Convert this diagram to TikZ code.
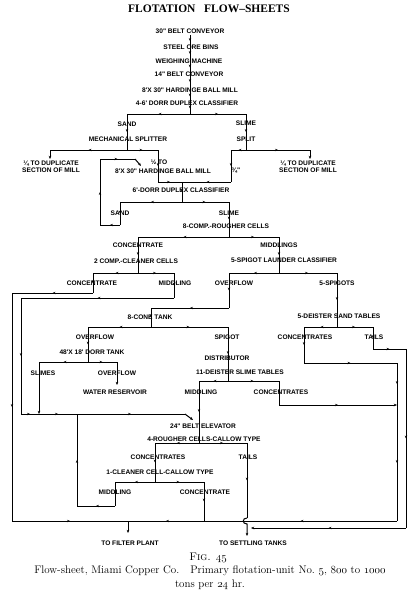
\documentclass[tikz,border=0pt]{standalone}
\usepackage{fontspec}
\usetikzlibrary{arrows.meta,decorations.markings}
\newfontfamily\lblfont{Liberation Sans}
\newfontfamily\headfont{Liberation Serif}
\newcommand\osn[1]{{\usefont{OML}{cmm}{m}{it}#1}}
\tikzset{
  lbl/.style={font=\lblfont\bfseries\fontsize{6.6}{7.4}\selectfont, inner sep=0.5pt, align=center},
  capt/.style={font=\fontsize{11}{13}\selectfont, inner sep=0pt},
  pipe/.style={line width=1pt},
  fl/.style={pipe, postaction={decorate},
    decoration={markings, mark=at position 0.5 with {\arrow{Stealth[length=3pt,width=2.4pt]}}}},
  endtip/.style={pipe, -{Stealth[length=3.2pt,width=2.6pt]}},
}

\begin{document}
\begin{tikzpicture}[x=1pt,y=-1pt]
  \fill[white] (0,0) rectangle (419,603);
  \useasboundingbox (0,0) rectangle (419,603);

  % title
  \node[font=\headfont\bfseries\fontsize{11.5}{13}\selectfont, inner sep=0pt] (title) at (209,9) {FLOTATION\hspace{0.5em} FLOW–SHEETS};

  % crushing and first mill
  \node[lbl] (conv30) at (190,31) {30" BELT CONVEYOR};
  \node[lbl] (bins) at (191,47) {STEEL ORE BINS};
  \node[lbl] (weigh) at (189,61) {WEIGHING MACHINE};
  \node[lbl] (conv14) at (189,74) {14" BELT CONVEYOR};
  \node[lbl] (mill1) at (190,90) {8'X 30" HARDINGE BALL MILL};
  \node[lbl] (dorr46) at (187,103) {4-6' DORR DUPLEX CLASSIFIER};
  \node[lbl] (sand1) at (127,124) {SAND};
  \node[lbl] (slime1) at (246,123) {SLIME};
  \node[lbl] (splitter) at (128,139) {MECHANICAL SPLITTER};
  \node[lbl] (split) at (246,139) {SPLIT};
  \node[lbl] (dupl) at (51,167) {¼ TO DUPLICATE\\SECTION OF MILL};
  \node[lbl] (halfto) at (159,162) {½ TO};
  \node[lbl] (mill2) at (163,171) {8'X 30" HARDINGE BALL MILL};
  \node[lbl] (threeq) at (236,170) {¾"};
  \node[lbl] (dupr) at (308,167) {¼ TO DUPLICATE\\SECTION OF MILL};
  \node[lbl] (dorr6) at (181,190) {6'-DORR DUPLEX CLASSIFIER};
  \node[lbl] (sand2) at (120,213) {SAND};
  \node[lbl] (slime2) at (229,213) {SLIME};

  % flotation
  \node[lbl] (rough8) at (226,226) {8-COMP.-ROUGHER CELLS};
  \node[lbl] (conc1) at (138,245) {CONCENTRATE};
  \node[lbl] (midd1) at (279,245) {MIDDLINGS};
  \node[lbl] (clean2) at (136,261) {2 COMP.-CLEANER CELLS};
  \node[lbl] (launder) at (284,260) {5-SPIGOT LAUNDER CLASSIFIER};
  \node[lbl] (conc2) at (92,283) {CONCENTRATE};
  \node[lbl] (midd2) at (175,283) {MIDDLING};
  \node[lbl] (over1) at (234,283) {OVERFLOW};
  \node[lbl] (spig5) at (337,283) {5-SPIGOTS};
  \node[lbl] (cone) at (150,317) {8-CONE TANK};
  \node[lbl] (sandtab) at (339,316) {5-DEISTER SAND TABLES};
  \node[lbl] (over2) at (95,337) {OVERFLOW};
  \node[lbl] (spig) at (227,337) {SPIGOT};
  \node[lbl] (conc3) at (305,337) {CONCENTRATES};
  \node[lbl] (tails1) at (374,337) {TAILS};
  \node[lbl] (dorrtank) at (92,352) {48'X 18' DORR TANK};
  \node[lbl] (distr) at (227,358) {DISTRIBUTOR};
  \node[lbl] (slimes) at (43,373) {SLIMES};
  \node[lbl] (over3) at (117,373) {OVERFLOW};
  \node[lbl] (slimetab) at (240,372) {11-DEISTER SLIME TABLES};
  \node[lbl] (water) at (115,392) {WATER RESERVOIR};
  \node[lbl] (midd3) at (201,392) {MIDDLING};
  \node[lbl] (conc4) at (281,392) {CONCENTRATES};
  \node[lbl] (elev) at (203,426) {24" BELT ELEVATOR};
  \node[lbl] (callow4) at (204,439) {4-ROUGHER CELLS-CALLOW TYPE};
  \node[lbl] (conc5) at (158,457) {CONCENTRATES};
  \node[lbl] (tails2) at (248,457) {TAILS};
  \node[lbl] (callow1) at (160,472) {1-CLEANER CELL-CALLOW TYPE};
  \node[lbl] (midd4) at (115,492) {MIDDLING};
  \node[lbl] (conc6) at (205,492) {CONCENTRATE};
  \node[lbl] (filter) at (130,543) {TO FILTER PLANT};
  \node[lbl] (settle) at (253,543) {TO SETTLING TANKS};

  % caption
  \node[capt] (fig) at (208,558) {\textsc{Fig.} \osn{45}};
  \node[capt] (cap1) at (210,571) {Flow-sheet, Miami Copper Co.\quad Primary flotation-unit No.~\osn{5}, \osn{800} to \osn{1000}};
  \node[capt] (cap2) at (210,585) {tons per \osn{24} hr.};

  % junctions
  \coordinate (t0) at (190,35);
  \coordinate (t1) at (190,47);
  \coordinate (t2) at (190,61);
  \coordinate (t3) at (190,74);
  \coordinate (t4) at (190,90);
  \coordinate (t5) at (190,103);
  \coordinate (c1) at (190,114);
  \coordinate (c1L) at (127,114);
  \coordinate (c1R) at (246,114);
  \coordinate (sp) at (127,150);
  \coordinate (sl) at (246,150);
  \coordinate (dupL) at (50,150);
  \coordinate (dupLe) at (50,159);
  \coordinate (bm) at (158,150);
  \coordinate (bmE) at (158,182);
  \coordinate (dupR) at (310,150);
  \coordinate (dupRe) at (310,159);
  \coordinate (slL) at (231,150);
  \coordinate (slLb) at (231,182);
  \coordinate (cl2) at (182,182);
  \coordinate (cl2b) at (182,202);
  \coordinate (sand6) at (120,202);
  \coordinate (sand6b) at (120,225);
  \coordinate (ret) at (100,225);
  \coordinate (retT) at (100,159);
  \coordinate (retR) at (135,159);
  \coordinate (retE) at (141,166);
  \coordinate (slime6) at (229,202);
  \coordinate (rg) at (229,237);
  \coordinate (rgL) at (138,237);
  \coordinate (rgR) at (279,237);
  \coordinate (cc) at (138,273);
  \coordinate (ln) at (279,273);
  \coordinate (ccL) at (93,273);
  \coordinate (ccLb) at (93,293);
  \coordinate (farL) at (12,293);
  \coordinate (farLb) at (12,521);
  \coordinate (ccR) at (174,273);
  \coordinate (ccRb) at (174,298);
  \coordinate (midL) at (21,298);
  \coordinate (midLb) at (21,414);
  \coordinate (sl1) at (39,414);
  \coordinate (mid2) at (77,414);
  \coordinate (elv0) at (185,414);
  \coordinate (elv1) at (193,420);
  \coordinate (lnL) at (229,273);
  \coordinate (lnLb) at (229,308);
  \coordinate (ct) at (151,308);
  \coordinate (ctb) at (151,327);
  \coordinate (lnR) at (337,273);
  \coordinate (st) at (337,327);
  \coordinate (stL) at (304,327);
  \coordinate (stLb) at (304,363);
  \coordinate (conR) at (397,363);
  \coordinate (sc) at (397,405);
  \coordinate (conRb) at (397,521);
  \coordinate (stR) at (373,327);
  \coordinate (stRb) at (373,349);
  \coordinate (tlR) at (406,349);
  \coordinate (tlRb) at (406,528);
  \coordinate (tlE) at (251,528);
  \coordinate (ctL) at (88,327);
  \coordinate (dt) at (88,362);
  \coordinate (ctR) at (228,327);
  \coordinate (slt) at (228,381);
  \coordinate (dtL) at (39,362);
  \coordinate (dtR) at (117,362);
  \coordinate (wr) at (117,385);
  \coordinate (sltL) at (199,381);
  \coordinate (ru) at (199,443);
  \coordinate (sltR) at (279,381);
  \coordinate (sltRb) at (279,405);
  \coordinate (ruL) at (155,443);
  \coordinate (cl) at (155,482);
  \coordinate (ruR) at (247,443);
  \coordinate (tl) at (247,518);
  \coordinate (tl2) at (247,524);
  \coordinate (tlE2) at (247,536);
  \coordinate (clL) at (115,482);
  \coordinate (clLb) at (115,506);
  \coordinate (mret) at (77,506);
  \coordinate (clR) at (204,482);
  \coordinate (clRb) at (204,521);
  \coordinate (fp) at (128,521);
  \coordinate (fpE) at (128,533);

  % ore to first classifier
  \draw[fl] (t0) -- (t1);
  \draw[fl] (t1) -- (t2);
  \draw[fl] (t2) -- (t3);
  \draw[fl] (t3) -- (t4);
  \draw[fl] (t4) -- (t5);
  \draw[fl] (t5) -- (c1);
  \draw[fl] (c1) -- (c1L);
  \draw[fl] (c1) -- (c1R);
  \draw[fl] (c1L) -- (sp);
  \draw[fl] (c1R) -- (sl);
  % splitting
  \draw[fl] (sp) -- (dupL);
  \draw[endtip] (dupL) -- (dupLe);
  \draw[fl] (sp) -- (bm);
  \draw[fl] (bm) -- (bmE);
  \draw[fl] (bmE) -- (cl2);
  \draw[fl] (sl) -- (dupR);
  \draw[endtip] (dupR) -- (dupRe);
  \draw[fl] (sl) -- (slL);
  \draw[fl] (slL) -- (slLb);
  \draw[fl] (slLb) -- (cl2);
  \draw[fl] (cl2) -- (cl2b);
  % 6' classifier, sand returned to mill
  \draw[fl] (cl2b) -- (sand6);
  \draw[fl] (cl2b) -- (slime6);
  \draw[fl] (sand6) -- (sand6b);
  \draw[fl] (sand6b) -- (ret);
  \draw[fl] (ret) -- (retT);
  \draw[fl] (retT) -- (retR);
  \draw[endtip] (retR) -- (retE);
  \draw[fl] (slime6) -- (rg);
  % roughers
  \draw[fl] (rg) -- (rgL);
  \draw[fl] (rg) -- (rgR);
  \draw[fl] (rgL) -- (cc);
  \draw[fl] (rgR) -- (ln);
  % cleaners
  \draw[fl] (cc) -- (ccL);
  \draw[fl] (cc) -- (ccR);
  \draw[fl] (ccL) -- (ccLb);
  \draw[fl] (ccLb) -- (farL);
  \draw[fl] (farL) -- (farLb);
  \draw[fl] (ccR) -- (ccRb);
  \draw[fl] (ccRb) -- (midL);
  \draw[fl] (midL) -- (midLb);
  \draw[fl] (midLb) -- (sl1);
  \draw[fl] (sl1) -- (mid2);
  \draw[fl] (mid2) -- (elv0);
  \draw[endtip] (elv0) -- (elv1);
  % launder classifier
  \draw[fl] (ln) -- (lnL);
  \draw[fl] (ln) -- (lnR);
  \draw[fl] (lnL) -- (lnLb);
  \draw[fl] (lnLb) -- (ct);
  \draw[fl] (ct) -- (ctb);
  \draw[fl] (lnR) -- (st);
  % sand tables
  \draw[fl] (st) -- (stL);
  \draw[fl] (st) -- (stR);
  \draw[fl] (stL) -- (stLb);
  \draw[fl] (stLb) -- (conR);
  \draw[fl] (conR) -- (sc);
  \draw[fl] (sc) -- (conRb);
  \draw[fl] (stR) -- (stRb);
  \draw[fl] (stRb) -- (tlR);
  \draw[fl] (tlR) -- (tlRb);
  \draw[fl,endtip] (tlRb) -- (tlE);
  % cone tank and dorr tank
  \draw[fl] (ctb) -- (ctL);
  \draw[fl] (ctb) -- (ctR);
  \draw[fl] (ctL) -- (dt);
  \draw[fl] (ctR) -- (slt);
  \draw[fl] (dt) -- (dtL);
  \draw[fl] (dt) -- (dtR);
  \draw[endtip] (dtL) -- (sl1);
  \draw[endtip] (dtR) -- (wr);
  % slime tables
  \draw[fl] (slt) -- (sltL);
  \draw[fl] (slt) -- (sltR);
  \draw[fl] (sltL) -- (ru);
  \draw[fl] (sltR) -- (sltRb);
  \draw[fl,endtip] (sltRb) -- (sc);
  % callow cells
  \draw[fl] (ru) -- (ruL);
  \draw[fl] (ru) -- (ruR);
  \draw[fl] (ruL) -- (cl);
  \draw[fl] (ruR) -- (tl);
  \draw[endtip] (tl) .. controls (242,518) and (242,524) .. (tl2) -- (tlE2);
  \draw[fl] (cl) -- (clL);
  \draw[fl] (cl) -- (clR);
  \draw[fl] (clL) -- (clLb);
  \draw[fl] (clLb) -- (mret);
  \draw[fl] (mret) -- (mid2);
  \draw[fl] (clR) -- (clRb);
  % to filter plant
  \draw[fl] (farLb) -- (fp);
  \draw[fl] (clRb) -- (fp);
  \draw[fl] (conRb) -- (clRb);
  \draw[endtip] (fp) -- (fpE);
\end{tikzpicture}
\end{document}
